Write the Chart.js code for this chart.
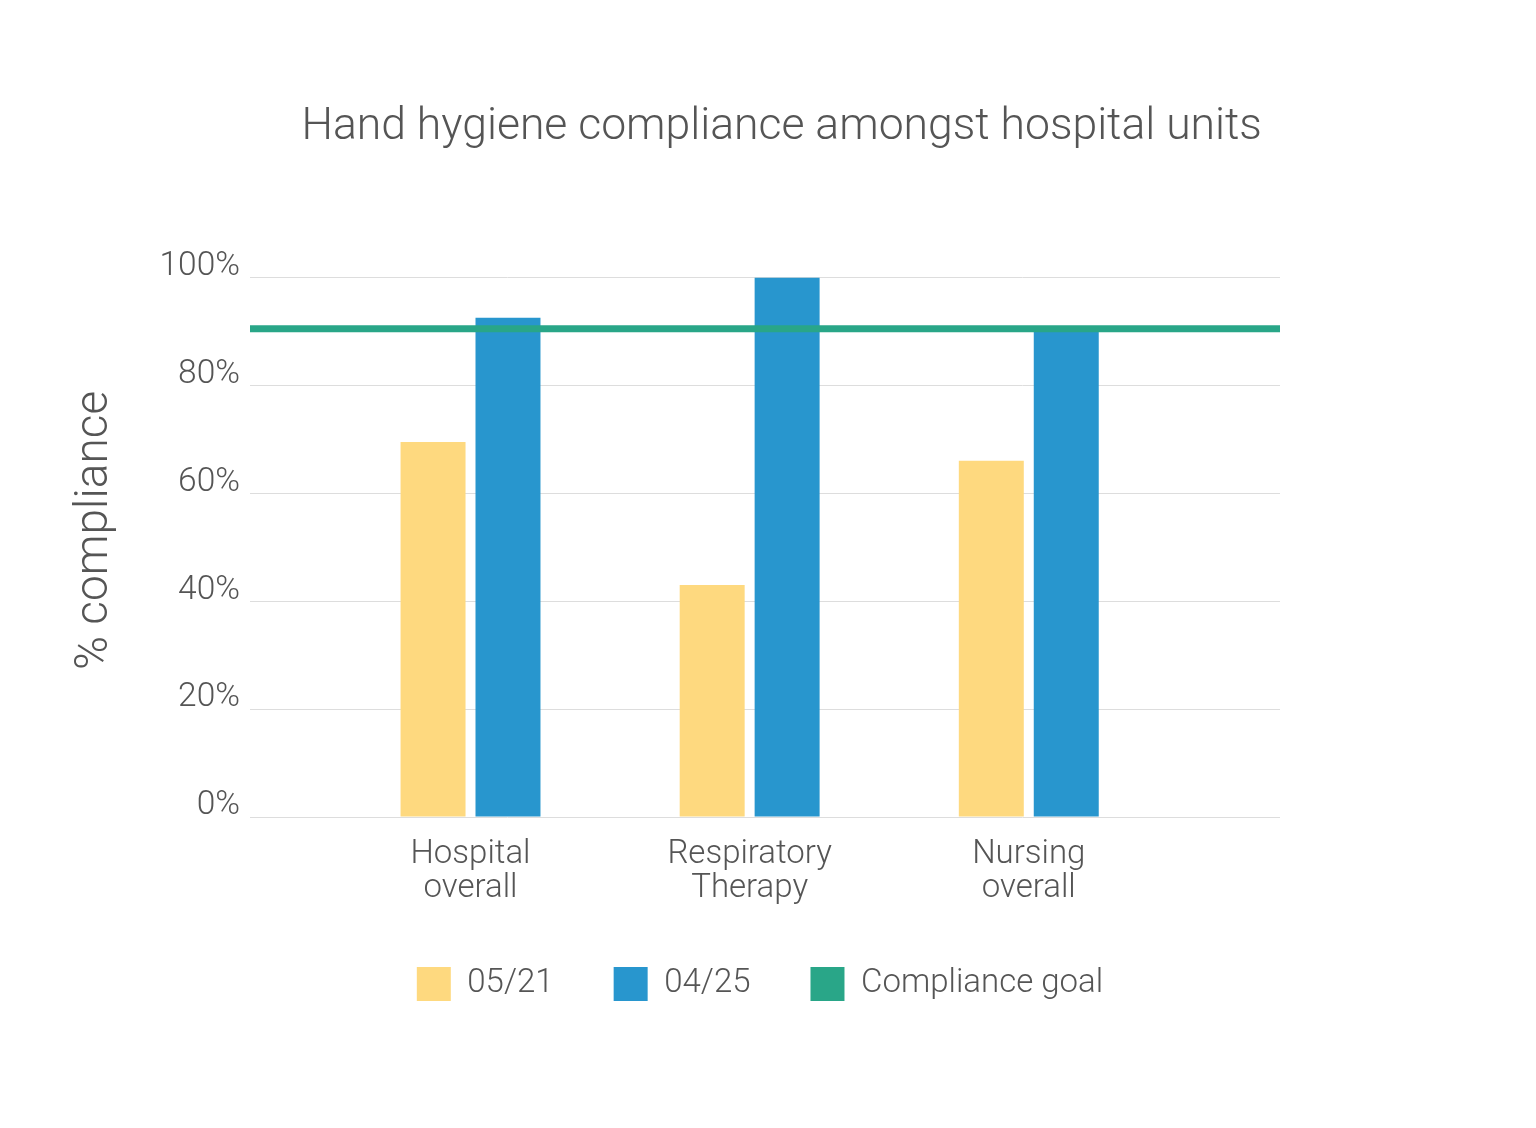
<!DOCTYPE html>
<html>
<head>
<meta charset="utf-8">
<script src="https://cdn.jsdelivr.net/npm/chart.js@4.4.1/dist/chart.umd.min.js"></script>
<style>
  html, body { margin: 0; padding: 0; background: #ffffff; }
  canvas { display: block; }
</style>
</head>
<body>
<canvas id="chart" width="1536" height="1128"></canvas>
<script>
const categories = ["Hospital overall", "Respiratory Therapy", "Nursing overall"];
const categoryLines = [["Hospital", "overall"], ["Respiratory", "Therapy"], ["Nursing", "overall"]];
const may21 = [69.5, 43, 66];
const apr25 = [92.5, 100, 91];
const goal = 90.5;
const yTicks = [0, 20, 40, 60, 80, 100];

// category slots sit at x = 1, 2, 3 on a linear axis
const X_MIN = 0.21;
const X_MAX = 3.9;

const TEXT = "#555555";
const FONT = "Roboto";

const toPoints = (vals) => vals.map((v, i) => ({ x: i + 1, y: v }));

const ctx = document.getElementById("chart");

new Chart(ctx, {
  type: "bar",
  data: {
    datasets: [
      {
        label: "05/21",
        data: toPoints(may21),
        backgroundColor: "#fed97f",
        categoryPercentage: 0.537,
        barPercentage: 0.867,
        order: 1,
      },
      {
        label: "04/25",
        data: toPoints(apr25),
        backgroundColor: "#2896ce",
        categoryPercentage: 0.537,
        barPercentage: 0.867,
        order: 1,
      },
      {
        type: "line",
        label: "Compliance goal",
        data: [{ x: X_MIN, y: goal }, { x: X_MAX, y: goal }],
        borderColor: "#29a688",
        backgroundColor: "#29a688",
        borderWidth: 7,
        pointRadius: 0,
        order: 0,
      },
    ],
  },
  options: {
    responsive: false,
    animation: false,
    devicePixelRatio: 1,
    layout: { padding: { left: 0, right: 16, top: 0, bottom: 117 } },
    plugins: {
      tooltip: { enabled: false },
      title: {
        display: true,
        // leading spaces nudge the centred title right, as in the original
        text: "    Hand hygiene compliance amongst hospital units",
        color: TEXT,
        font: { family: FONT, size: 44.5, weight: 300 },
        padding: { top: 101, bottom: 123 },
      },
      legend: {
        position: "bottom",
        labels: {
          color: TEXT,
          font: { family: FONT, size: 33, weight: 300 },
          boxWidth: 34,
          boxHeight: 34,
          padding: 60,
          sort: (a, b) => a.datasetIndex - b.datasetIndex,
          generateLabels: (chart) =>
            Chart.defaults.plugins.legend.labels.generateLabels(chart).map((item) => {
              item.lineWidth = 0;
              return item;
            }),
        },
      },
    },
    scales: {
      x: {
        type: "linear",
        min: X_MIN,
        max: X_MAX,
        offset: false,
        grid: { display: false, drawTicks: false },
        border: { display: false },
        afterBuildTicks: (scale) => {
          scale.ticks = categories.map((c, i) => ({ value: i + 1 }));
        },
        afterFit: (scale) => { scale.height = 90; },
        ticks: {
          padding: 21,
          color: TEXT,
          autoSkip: false,
          maxRotation: 0,
          font: { family: FONT, size: 33, weight: 300, lineHeight: 1.03 },
          callback: (v) => categoryLines[v - 1] || "",
        },
      },
      y: {
        min: 0,
        max: 100,
        afterBuildTicks: (scale) => {
          scale.ticks = yTicks.map((v) => ({ value: v }));
        },
        afterFit: (scale) => { scale.width = 250; },
        grid: { color: "#dddddd", lineWidth: 1, drawTicks: false },
        border: { display: false },
        ticks: {
          padding: 10,
          labelOffset: -11,
          color: TEXT,
          font: { family: FONT, size: 33.5, weight: 300 },
          callback: (v) => v + "%",
        },
        title: {
          display: true,
          text: "   % compliance",
          color: TEXT,
          font: { family: FONT, size: 46, weight: 300 },
          padding: { top: 68, bottom: 0 },
        },
      },
      yRight: {
        position: "right",
        display: true,
        grid: { display: false, drawTicks: false },
        border: { display: false },
        ticks: { display: false },
        afterFit: (scale) => { scale.width = 240; },
      },
    },
  },
});
</script>
</body>
</html>
